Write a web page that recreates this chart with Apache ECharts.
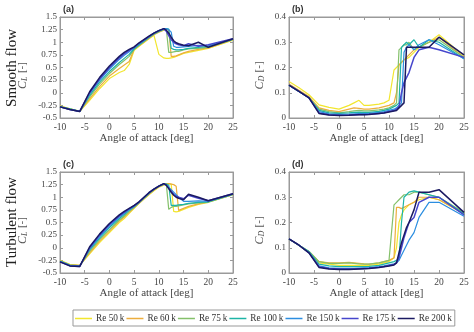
<!DOCTYPE html>
<html><head><meta charset="utf-8">
<script src="https://cdn.jsdelivr.net/npm/echarts@6/dist/echarts.min.js"></script>
<style>html,body{margin:0;padding:0;background:#fff}#c{width:474px;height:332px}</style>
</head><body><div id="c"></div>
<script>
// Angle of attack grid (deg)
const aoa = [-10,-8,-6,-4,-2,0,2,3,4,5,6,8,9,10,11,11.5,12,12.5,13,13.5,14,15,16,18,20,25];
const reNames = ['Re 50\u2009k','Re 60\u2009k','Re 75\u2009k','Re 100\u2009k','Re 150\u2009k','Re 175\u2009k','Re 200\u2009k'];
const xTicks = [-10,-5,0,5,10,15,20,25];

// (a) CL, smooth flow
const clS50  = [-0.26,-0.32,-0.37,-0.15,0.08,0.28,0.40,0.44,0.56,0.84,0.92,1.07,1.14,0.76,0.69,0.68,0.68,0.69,0.70,0.72,0.74,0.78,0.80,0.84,0.88,1.04];
const clS60  = [-0.27,-0.32,-0.37,-0.12,0.12,0.33,0.48,0.55,0.62,0.86,0.93,1.08,1.15,1.20,1.24,1.26,1.25,0.72,0.72,0.73,0.75,0.79,0.82,0.86,0.89,1.05];
const clS75  = [-0.27,-0.32,-0.37,-0.08,0.17,0.38,0.56,0.64,0.72,0.86,0.94,1.09,1.16,1.21,1.25,1.27,0.80,0.80,0.81,0.82,0.82,0.85,0.87,0.88,0.90,1.05];
const clS100 = [-0.28,-0.32,-0.37,-0.05,0.21,0.42,0.60,0.68,0.76,0.87,0.95,1.10,1.17,1.22,1.26,1.27,1.26,0.88,0.86,0.85,0.85,0.86,0.88,0.90,0.92,1.06];
const clS150 = [-0.28,-0.33,-0.37,-0.02,0.25,0.47,0.66,0.74,0.81,0.89,0.97,1.11,1.18,1.23,1.26,1.27,1.25,1.20,0.92,0.90,0.90,0.91,0.92,0.94,0.93,1.06];
const clS175 = [-0.28,-0.33,-0.37,0.00,0.27,0.50,0.69,0.77,0.84,0.90,0.98,1.11,1.18,1.23,1.27,1.22,1.13,1.05,1.00,0.97,0.95,0.93,0.97,0.92,0.95,1.07];
const clS200 = [-0.28,-0.33,-0.37,0.02,0.30,0.53,0.72,0.80,0.86,0.91,0.99,1.12,1.18,1.23,1.27,1.24,1.18,1.10,1.03,0.99,0.97,0.94,0.93,1.00,0.90,1.07];

// (b) CD, smooth flow
const cdS50  = [0.145,0.12,0.092,0.052,0.042,0.035,0.05,0.06,0.07,0.05,0.05,0.055,0.06,0.07,0.19,0.20,0.21,0.22,0.23,0.235,0.24,0.26,0.28,0.30,0.33,0.245];
const cdS60  = [0.135,0.11,0.085,0.04,0.03,0.025,0.035,0.04,0.038,0.035,0.035,0.04,0.045,0.05,0.06,0.10,0.21,0.22,0.23,0.24,0.25,0.27,0.28,0.30,0.32,0.24];
const cdS75  = [0.13,0.105,0.08,0.035,0.025,0.02,0.025,0.028,0.03,0.028,0.028,0.032,0.035,0.04,0.05,0.06,0.27,0.28,0.29,0.29,0.30,0.27,0.28,0.30,0.31,0.24];
const cdS100 = [0.13,0.105,0.08,0.03,0.02,0.018,0.02,0.022,0.023,0.022,0.022,0.026,0.03,0.035,0.045,0.05,0.06,0.28,0.29,0.30,0.29,0.31,0.28,0.31,0.30,0.235];
const cdS150 = [0.13,0.105,0.08,0.025,0.016,0.014,0.015,0.016,0.017,0.017,0.018,0.022,0.025,0.03,0.035,0.04,0.05,0.06,0.26,0.28,0.29,0.27,0.29,0.31,0.29,0.235];
const cdS175 = [0.13,0.105,0.08,0.02,0.013,0.011,0.012,0.013,0.014,0.014,0.015,0.018,0.021,0.026,0.03,0.035,0.045,0.10,0.14,0.16,0.18,0.24,0.27,0.28,0.27,0.24];
const cdS200 = [0.13,0.105,0.08,0.018,0.012,0.01,0.011,0.012,0.013,0.013,0.014,0.018,0.02,0.024,0.028,0.03,0.04,0.05,0.06,0.28,0.28,0.28,0.28,0.28,0.32,0.25];

// (c) CL, turbulent flow
const clT50  = [-0.25,-0.33,-0.35,-0.12,0.10,0.30,0.50,0.58,0.68,0.78,0.88,1.05,1.13,1.20,1.24,1.26,1.27,1.26,0.72,0.71,0.72,0.76,0.80,0.86,0.90,1.05];
const clT60  = [-0.26,-0.34,-0.35,-0.10,0.13,0.33,0.53,0.61,0.70,0.79,0.88,1.06,1.14,1.21,1.25,1.27,1.27,1.26,1.25,1.22,0.74,0.78,0.82,0.87,0.91,1.05];
const clT75  = [-0.26,-0.34,-0.36,-0.07,0.16,0.36,0.55,0.63,0.72,0.80,0.89,1.07,1.15,1.22,1.26,1.27,0.76,0.80,0.82,0.82,0.83,0.85,0.87,0.89,0.90,1.05];
const clT100 = [-0.27,-0.35,-0.36,-0.04,0.19,0.40,0.58,0.66,0.74,0.81,0.90,1.08,1.16,1.22,1.26,1.26,1.24,0.84,0.84,0.84,0.85,0.86,0.88,0.90,0.91,1.06];
const clT150 = [-0.27,-0.35,-0.36,-0.02,0.22,0.43,0.61,0.68,0.76,0.82,0.90,1.08,1.16,1.22,1.26,1.24,1.20,1.15,1.10,1.05,1.00,0.92,0.92,0.93,0.92,1.06];
const clT175 = [-0.28,-0.36,-0.37,0.00,0.25,0.46,0.63,0.70,0.77,0.83,0.91,1.09,1.16,1.22,1.27,1.24,1.18,1.12,1.06,1.02,1.00,0.97,1.04,0.98,0.93,1.07];
const clT200 = [-0.28,-0.36,-0.37,0.02,0.27,0.48,0.65,0.72,0.78,0.84,0.91,1.09,1.16,1.22,1.27,1.24,1.17,1.10,1.04,1.00,0.98,0.95,1.06,1.00,0.93,1.07];

// (d) CD, turbulent flow
const cdT50  = [0.135,0.11,0.08,0.04,0.035,0.03,0.03,0.03,0.03,0.03,0.03,0.035,0.04,0.045,0.06,0.10,0.20,0.23,0.25,0.26,0.27,0.28,0.29,0.30,0.29,0.235];
const cdT60  = [0.135,0.11,0.085,0.045,0.04,0.04,0.042,0.04,0.038,0.036,0.035,0.04,0.045,0.05,0.06,0.26,0.26,0.255,0.26,0.265,0.27,0.28,0.30,0.30,0.29,0.235];
const cdT75  = [0.135,0.11,0.085,0.045,0.038,0.038,0.04,0.038,0.036,0.035,0.035,0.04,0.045,0.05,0.27,0.28,0.29,0.30,0.31,0.31,0.31,0.32,0.32,0.31,0.30,0.24];
const cdT100 = [0.135,0.11,0.085,0.035,0.028,0.025,0.025,0.025,0.025,0.025,0.026,0.03,0.035,0.04,0.045,0.05,0.06,0.20,0.30,0.31,0.32,0.325,0.32,0.31,0.30,0.235];
const cdT150 = [0.135,0.11,0.08,0.028,0.02,0.018,0.018,0.018,0.019,0.02,0.021,0.025,0.028,0.032,0.036,0.04,0.05,0.07,0.09,0.11,0.13,0.16,0.22,0.28,0.28,0.225];
const cdT175 = [0.135,0.11,0.08,0.025,0.018,0.016,0.016,0.016,0.017,0.018,0.019,0.023,0.026,0.03,0.034,0.04,0.06,0.10,0.14,0.17,0.20,0.22,0.28,0.30,0.30,0.23];
const cdT200 = [0.135,0.11,0.08,0.022,0.016,0.014,0.014,0.015,0.016,0.017,0.018,0.022,0.025,0.028,0.032,0.04,0.08,0.12,0.15,0.18,0.20,0.25,0.32,0.32,0.33,0.24];

const colors = ['#f2e62e','#ecae3e','#84c06a','#1db4a6','#2c8ee0','#4646cc','#1b1a62'];
const panels = [
  {sets:[clS50,clS60,clS75,clS100,clS150,clS175,clS200], ymin:-0.5, ymax:1.5, yint:0.25, sub:'L', grid:{left:60,top:17,width:173,height:101}, gap:31, lab:'(a)'},
  {sets:[cdS50,cdS60,cdS75,cdS100,cdS150,cdS175,cdS200], ymin:0, ymax:0.4, yint:0.1, sub:'D', grid:{left:289,top:17,width:175,height:101}, gap:23, lab:'(b)'},
  {sets:[clT50,clT60,clT75,clT100,clT150,clT175,clT200], ymin:-0.5, ymax:1.5, yint:0.25, sub:'L', grid:{left:60,top:172,width:173,height:101}, gap:31, lab:'(c)'},
  {sets:[cdT50,cdT60,cdT75,cdT100,cdT150,cdT175,cdT200], ymin:0, ymax:0.4, yint:0.1, sub:'D', grid:{left:289,top:172,width:175,height:101}, gap:23, lab:'(d)'}
];
const serif = 'Liberation Serif';
const axCol = '#9a9a9a';
const grids=[], xAxes=[], yAxes=[], series=[], graphics=[];
panels.forEach((p,i)=>{
  grids.push(Object.assign({show:true,borderColor:axCol,borderWidth:1,backgroundColor:'#fff'},p.grid));
  const tick = {show:true,inside:true,length:3,lineStyle:{color:axCol}};
  const line = {show:true,onZero:false,lineStyle:{color:axCol}};
  xAxes.push({gridIndex:i,type:'value',min:-10,max:25,interval:5,position:'bottom',
    axisLine:line,axisTick:tick,splitLine:{show:false},
    axisLabel:{fontFamily:serif,fontSize:9.5,color:'#444',margin:4},
    name:'Angle of attack [deg]',nameLocation:'middle',nameGap:13,
    nameTextStyle:{fontFamily:serif,fontSize:11,color:'#444'}});
  xAxes.push({gridIndex:i,type:'value',min:-10,max:25,interval:5,position:'top',
    axisLine:line,axisTick:tick,axisLabel:{show:false},splitLine:{show:false}});
  yAxes.push({gridIndex:i,type:'value',min:p.ymin,max:p.ymax,interval:p.yint,position:'left',
    axisLine:line,axisTick:tick,splitLine:{show:false},
    axisLabel:{fontFamily:serif,fontSize:9,color:'#444',margin:3},
    name:'{c|C}{s|'+p.sub+'} {n|[-]}',nameLocation:'middle',nameGap:p.gap,nameRotate:90,
    nameTextStyle:{padding:[0,16,0,0],rich:{
      c:{fontFamily:serif,fontStyle:'italic',fontSize:12,color:'#555'},
      s:{fontFamily:serif,fontStyle:'italic',fontSize:8,color:'#555',verticalAlign:'bottom',padding:[5,0,0,0]},
      n:{fontFamily:serif,fontSize:11,color:'#555'}}}});
  yAxes.push({gridIndex:i,type:'value',min:p.ymin,max:p.ymax,interval:p.yint,position:'right',
    axisLine:line,axisTick:tick,axisLabel:{show:false},splitLine:{show:false}});
  p.sets.forEach((vals,r)=>{
    series.push({type:'line',name:reNames[r],xAxisIndex:2*i,yAxisIndex:2*i,
      data:aoa.map((a,k)=>[a,vals[k]]),symbol:'none',animation:false,
      color:colors[r],lineStyle:{width:r>=5?1.5:1.2,color:colors[r]},z:2+r});
  });
  graphics.push({type:'text',left:p.grid.left+3,top:p.grid.top-12,
    style:{text:p.lab,font:'bold 9px "Liberation Sans"',fill:'#333'}});
});
graphics.push({type:'text',x:12,y:68,rotation:Math.PI/2,
  style:{text:'Smooth flow',font:'15px "Liberation Serif"',fill:'#222',align:'center',verticalAlign:'middle'}});
graphics.push({type:'text',x:12,y:222,rotation:Math.PI/2,
  style:{text:'Turbulent flow',font:'15px "Liberation Serif"',fill:'#222',align:'center',verticalAlign:'middle'}});

const chart = echarts.init(document.getElementById('c'),null,{renderer:'canvas'});
chart.setOption({
  animation:false,
  grid:grids,xAxis:xAxes,yAxis:yAxes,series:series,graphic:graphics,
  legend:{data:reNames,left:73,top:310,width:400,orient:'horizontal',padding:[4,3,3,2],
    icon:'rect',itemWidth:17,itemHeight:1.5,itemGap:2,
    borderColor:'#999',borderWidth:1,
    textStyle:{fontFamily:serif,fontSize:9.3,color:'#333',padding:[0,0,0,-1]}}
});
</script></body></html>
